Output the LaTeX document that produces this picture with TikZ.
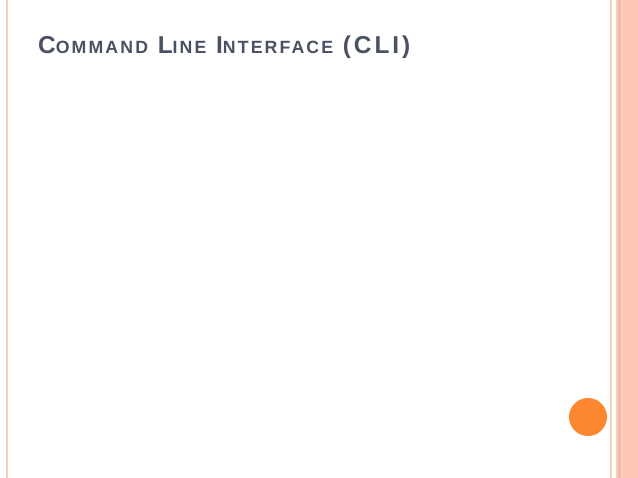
\documentclass[tikz,border=0pt]{standalone}
\usepackage{fontspec}
\setmainfont{Liberation Sans}
\newfontfamily\tfont[LetterSpace=12]{Liberation Sans}
\definecolor{tg}{HTML}{4A5162}
\definecolor{pk1}{HTML}{F9CFC2}
\definecolor{pk2}{HTML}{FBB9A5}
\definecolor{pk3}{HTML}{FFC8B5}
\definecolor{orng}{HTML}{FD8631}
\newcommand{\bg}[1]{{\fontsize{20}{20}\selectfont #1}}
\newcommand{\sm}[1]{{\fontsize{14.5}{14.5}\selectfont #1}}
\begin{document}
\begin{tikzpicture}[x=1pt,y=-1pt]
\useasboundingbox (0,0) rectangle (638,478);
\fill[white] (0,0) rectangle (638,478);
\fill[pk1] (5.5,0) rectangle (8,478);
\fill[pk1] (609.5,0) rectangle (612,478);
\fill[pk1] (616,0) rectangle (618,478);
\fill[pk2] (618,0) rectangle (621,478);
\fill[pk1] (621,0) rectangle (623,478);
\fill[pk3] (623,0) rectangle (638,478);
\fill[orng] (588,417) circle (19);
\node[anchor=base west,inner sep=0,text=tg,font=\tfont\bfseries] (title) at (38,54)
 {\resizebox{372pt}{!}{\bg{C}\sm{OMMAND}\bg{ L}\sm{INE}\bg{ I}\sm{NTERFACE}\bg{ (CLI)}}};
\end{tikzpicture}
\end{document}
